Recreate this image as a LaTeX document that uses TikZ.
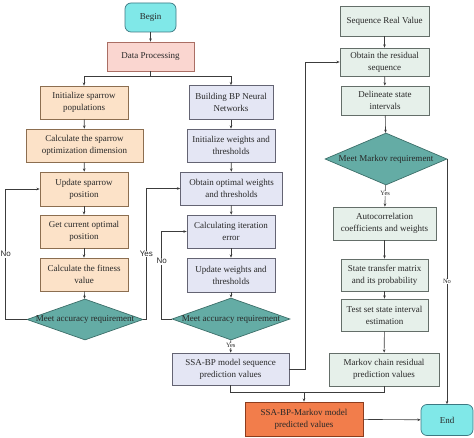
\documentclass[tikz,border=0pt]{standalone}
\usepackage{fontspec}
\setmainfont{Liberation Serif}
\newfontfamily\labsans{Liberation Sans}
\usetikzlibrary{shapes.geometric,arrows.meta}
\definecolor{cyanF}{RGB}{128,232,232}
\definecolor{cyanD}{RGB}{60,120,130}
\definecolor{pinkF}{RGB}{250,214,208}
\definecolor{pinkD}{RGB}{170,110,100}
\definecolor{orF}{RGB}{252,226,200}
\definecolor{orD}{RGB}{140,110,80}
\definecolor{lavF}{RGB}{228,230,244}
\definecolor{lavD}{RGB}{100,100,115}
\definecolor{grF}{RGB}{230,240,234}
\definecolor{grD}{RGB}{100,110,105}
\definecolor{teF}{RGB}{100,172,165}
\definecolor{teD}{RGB}{60,110,105}
\definecolor{coF}{RGB}{242,125,75}
\definecolor{coD}{RGB}{140,60,30}
\definecolor{txt}{RGB}{40,40,40}
\definecolor{lineC}{RGB}{60,60,60}
\tikzset{
  base/.style={draw, line width=0.7pt, align=center, font=\fontsize{9}{12}\selectfont, text=txt, inner sep=1pt},
  term/.style={base, fill=cyanF, draw=cyanD, rounded corners=6pt},
  pinkbox/.style={base, fill=pinkF, draw=pinkD},
  orbox/.style={base, fill=orF, draw=orD},
  lavbox/.style={base, fill=lavF, draw=lavD},
  grbox/.style={base, fill=grF, draw=grD},
  cobox/.style={base, fill=coF, draw=coD},
  dia/.style={diamond, draw=teD, fill=teF, line width=0.7pt, inner sep=0pt},
  diatext/.style={font=\fontsize{9}{12}\selectfont, text=txt, inner sep=0pt},
  conn/.style={draw=lineC, line width=0.6pt},
  arr/.style={conn, -{Stealth[length=3.2pt,width=2.6pt]}},
  sanslab/.style={font=\labsans\fontsize{8}{9}\selectfont, text=txt, fill=white, inner sep=0.5pt},
  smalllab/.style={font=\fontsize{6.5}{7}\selectfont, text=txt, fill=white, inner sep=0.5pt},
}
\begin{document}
\begin{tikzpicture}[x=1pt,y=-1pt]
\useasboundingbox (0,0) rectangle (474,438);
% left column
\node[term, minimum width=51pt, minimum height=29pt] (begin) at (150.5,17.5) {Begin};
\node[pinkbox, minimum width=87pt, minimum height=29pt] (dp) at (150.5,56.5) {Data Processing};
\node[orbox, minimum width=88pt, minimum height=33pt] (isp) at (84,102.5) {Initialize sparrow\\populations};
\node[orbox, minimum width=117pt, minimum height=33pt] (csd) at (84.5,145.5) {Calculate the sparrow\\optimization dimension};
\node[orbox, minimum width=88pt, minimum height=34pt] (usp) at (84,189) {Update sparrow\\position};
\node[orbox, minimum width=88pt, minimum height=33pt] (gco) at (84,231.5) {Get current optimal\\position};
\node[orbox, minimum width=88pt, minimum height=33pt] (cfv) at (84,274.5) {Calculate the fitness\\value};
\node[dia, minimum width=116pt, minimum height=41pt] (d1) at (85,319.5) {};
\node[diatext] (d1t) at (d1) {Meet accuracy requirement};
% middle column
\node[lavbox, minimum width=84pt, minimum height=34pt] (bbp) at (231,102.5) {Building BP Neural\\Networks};
\node[lavbox, minimum width=88pt, minimum height=33pt] (iwt) at (231,145.5) {Initialize weights and\\thresholds};
\node[lavbox, minimum width=102pt, minimum height=33pt] (oow) at (231.5,188.5) {Obtain optimal weights\\and thresholds};
\node[lavbox, minimum width=88pt, minimum height=33pt] (cie) at (231,231.5) {Calculating iteration\\error};
\node[lavbox, minimum width=88pt, minimum height=34pt] (uwt) at (231,275) {Update weights and\\thresholds};
\node[dia, minimum width=118pt, minimum height=42pt] (d2) at (231,319) {};
\node[diatext] (d2t) at (d2) {Meet accuracy requirement};
\node[lavbox, minimum width=117pt, minimum height=32pt] (ssabp) at (230.5,369) {SSA-BP model sequence\\prediction values};
% bottom
\node[cobox, minimum width=118pt, minimum height=34pt] (final) at (304,419) {SSA-BP-Markov model\\predicted values};
\node[term, minimum width=52pt, minimum height=31pt] (end) at (447,420) {End};
% right column
\node[grbox, minimum width=89pt, minimum height=30pt] (srv) at (384.5,21) {Sequence Real Value};
\node[grbox, minimum width=89pt, minimum height=28pt] (ors) at (384.5,62) {Obtain the residual\\sequence};
\node[grbox, minimum width=88pt, minimum height=29pt] (dsi) at (385,100.5) {Delineate state\\intervals};
\node[dia, minimum width=122pt, minimum height=52pt] (dm) at (386,159) {};
\node[diatext] (dmt) at (dm) {Meet Markov requirement};
\node[grbox, minimum width=103pt, minimum height=33pt] (acw) at (384.5,223.5) {Autocorrelation\\coefficients and weights};
\node[grbox, minimum width=87pt, minimum height=32pt] (stm) at (384.5,275) {State transfer matrix\\and its probability};
\node[grbox, minimum width=87pt, minimum height=32pt] (tss) at (384.5,315) {Test set state interval\\estimation};
\node[grbox, minimum width=110pt, minimum height=33pt] (mcr) at (384,369.5) {Markov chain residual\\prediction values};
% coordinates
\coordinate (split) at (150.5,76);
\coordinate (merge) at (304,392);
% connectors
\draw[arr] (begin) -- (dp);
\draw[conn] (dp.south) -- (split);
\draw[arr] (split) -| (isp.north);
\draw[arr] (split) -| (bbp.north);
\draw[arr] (isp) -- (csd);
\draw[arr] (csd) -- (usp);
\draw[arr] (usp) -- (gco);
\draw[arr] (gco) -- (cfv);
\draw[arr] (cfv) -- (d1);
\draw[arr] (d1.west) -- ++(-21,0) |- node[sanslab, pos=0.25] {No} (usp.west);
\draw[arr] (d1.east) -- ++(3,0) |- node[sanslab, pos=0.25] {Yes} (oow.west);
\draw[arr] (bbp) -- (iwt);
\draw[arr] (iwt) -- (oow);
\draw[arr] (oow) -- (cie);
\draw[arr] (cie) -- (uwt);
\draw[arr] (uwt) -- (d2);
\draw[arr] (d2.west) -- ++(-10,0) |- node[sanslab, pos=0.33] {No} (cie.west);
\draw[arr] (d2) -- node[smalllab, pos=0.4] {Yes} (ssabp);
\draw[arr] (ssabp.east) -- ++(15.5,0) |- (ors.west);
\draw[conn] (ssabp.south) -- (ssabp.south |- merge) -- (mcr.south |- merge) -- (mcr.south);
\draw[arr] (merge) -- (final);
\draw[arr] (final) -- (end);
\draw[arr] (srv) -- (ors);
\draw[arr] (ors) -- (dsi);
\draw[arr] (dsi) -- (dm);
\draw[arr] (dm) -- node[smalllab, pos=0.4] {Yes} (acw);
\draw[arr] (acw) -- (stm);
\draw[arr] (stm) -- (tss);
\draw[arr] (tss) -- (mcr);
\draw[arr] (dm.east) -- (end.north |- dm.east) -- node[smalllab, pos=0.5] {No} (end.north);
\end{tikzpicture}
\end{document}
